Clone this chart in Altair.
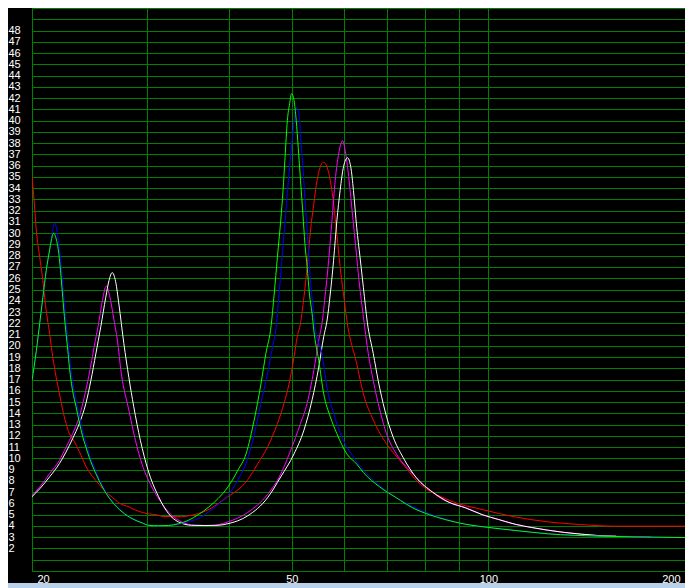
import altair as alt
import pandas as pd

# ---- data (frequency in Hz, value) ----
green_f = [20.0, 20.31, 20.55, 20.78, 21.03, 21.28, 21.4, 21.57, 21.78, 21.98,
           22.16, 22.29, 22.42, 22.55, 22.69, 22.82, 23.08, 23.36, 23.63, 23.9,
           24.19, 24.47, 25.05, 25.63, 26.54, 27.49, 28.46, 29.48, 30.17, 31.25,
           32.36, 33.51, 34.71, 35.94, 37.21, 38.54, 39.91, 41.32, 42.54, 43.81,
           44.83, 45.62, 46.48, 46.98, 47.52, 48.07, 48.47, 48.81, 49.21, 49.61,
           49.96, 50.38, 50.78, 51.14, 51.55, 51.99, 52.35, 52.77, 53.2, 53.7,
           54.02, 54.97, 55.94, 57.25, 58.6, 60.69, 62.85, 64.34, 68.18, 72.28,
           76.62, 81.2, 86.07, 92.3, 99.58, 109.93, 123.49, 147.07, 167.16, 200.0]
green_v = [16.9, 19.6, 22.0, 24.3, 26.7, 28.5, 29.3, 30.0, 29.5, 28.2,
           26.1, 24.3, 22.6, 21.1, 19.6, 18.1, 16.0, 14.6, 13.2, 12.0,
           11.0, 10.1, 8.65, 7.46, 6.13, 5.24, 4.65, 4.27, 4.06, 4.02,
           4.04, 4.2, 4.5, 5.0, 5.63, 6.43, 7.46, 8.94, 10.4, 13.5,
           16.6, 19.3, 21.8, 24.6, 27.9, 31.1, 33.8, 36.7, 40.0, 41.5,
           42.4, 41.8, 40.0, 37.6, 34.7, 31.7, 29.1, 27.0, 24.6, 22.85,
           21.4, 18.7, 15.75, 13.7, 12.2, 10.4, 9.5, 8.75, 7.46, 6.5,
           5.6, 5.0, 4.55, 4.15, 3.88, 3.6, 3.3, 3.1, 3.03, 2.97]

blue_f = [20.0, 20.31, 20.55, 20.78, 21.03, 21.28, 21.4, 21.52, 21.67, 21.83,
          21.98, 22.16, 22.29, 22.42, 22.55, 22.69, 22.82, 23.08, 23.36, 23.63,
          23.9, 24.19, 24.47, 25.05, 25.63, 26.54, 27.49, 28.46, 29.48, 30.17,
          31.25, 32.36, 33.51, 34.71, 35.94, 37.21, 38.54, 39.91, 41.32, 42.79,
          43.81, 44.83, 45.89, 46.7, 47.24, 47.8, 48.36, 48.92, 49.5, 50.04,
          50.48, 50.84, 51.26, 51.55, 51.99, 52.46, 52.96, 53.39, 54.02, 54.33,
          55.61, 56.59, 57.93, 59.64, 62.13, 65.84, 70.61, 76.62, 86.07, 92.3,
          99.58, 109.93, 123.49, 147.07, 167.16, 200.0]
blue_v = [16.9, 19.5, 21.9, 24.2, 26.6, 28.5, 29.4, 30.3, 30.9, 30.3,
          29.0, 27.2, 25.5, 23.8, 22.2, 20.6, 19.1, 16.8, 15.2, 13.8,
          12.5, 11.4, 10.4, 8.9, 7.6, 6.2, 5.3, 4.7, 4.3, 4.08,
          4.02, 4.04, 4.15, 4.4, 4.65, 5.2, 5.9, 6.7, 8.06, 10.0,
          12.2, 14.9, 17.5, 19.9, 21.4, 24.6, 28.2, 31.7, 35.3, 38.2,
          40.3, 41.2, 40.6, 38.8, 35.9, 32.3, 28.8, 25.8, 22.85, 21.4,
          19.3, 16.3, 14.0, 11.9, 10.1, 8.35, 6.9, 5.7, 4.6, 4.15,
          3.88, 3.6, 3.3, 3.1, 3.03, 2.97]

red_f = [20.0, 20.15, 20.31, 20.55, 20.78, 20.91, 21.03, 21.28, 21.52, 21.78,
         22.03, 22.29, 22.55, 22.82, 23.22, 23.63, 24.19, 24.75, 25.34, 25.63,
         26.86, 27.17, 28.14, 28.46, 30.0, 31.25, 31.61, 33.9, 34.3, 35.94,
         36.79, 39.45, 42.79, 44.31, 45.89, 47.52, 48.65, 49.5, 50.38, 50.96,
         51.55, 52.17, 52.77, 53.39, 54.02, 54.65, 55.28, 55.94, 56.59, 57.25,
         57.93, 58.6, 59.28, 59.99, 60.69, 62.85, 64.34, 66.63, 69.8, 73.99,
         77.51, 87.07, 97.86, 109.93, 123.49, 138.79, 155.9, 200.0]
red_v = [35.0, 32.9, 30.2, 27.9, 25.8, 24.3, 23.1, 21.1, 19.0, 17.2,
         15.75, 14.3, 13.1, 12.2, 11.5, 10.6, 9.3, 8.4, 7.7, 7.35,
         6.3, 6.05, 5.7, 5.55, 5.1, 4.95, 4.85, 4.82, 4.85, 5.1,
         5.3, 6.4, 8.1, 9.5, 11.0, 13.1, 14.9, 16.6, 19.0, 20.8,
         22.0, 24.3, 27.0, 30.2, 32.6, 34.7, 35.9, 36.3, 35.9, 34.7,
         32.6, 29.9, 27.0, 24.6, 22.3, 18.4, 15.75, 13.4, 11.3, 9.5,
         8.06, 6.28, 5.46, 4.8, 4.36, 4.12, 3.98, 3.98]

magenta_f = [20.0, 20.55, 21.28, 22.03, 22.55, 23.08, 23.63, 24.04, 24.47, 24.9,
             25.34, 25.63, 25.99, 26.39, 26.7, 27.01, 27.41, 28.14, 28.8, 29.48,
             30.52, 31.61, 32.73, 33.9, 35.52, 37.65, 39.91, 42.79, 45.89, 48.07,
             49.78, 51.55, 52.77, 54.02, 54.97, 55.61, 56.26, 56.93, 57.59, 58.26,
             58.95, 59.78, 60.48, 61.18, 61.91, 62.63, 63.36, 64.34, 65.47, 66.63,
             68.18, 69.8, 72.28, 75.72, 80.27, 86.07, 92.3, 97.86, 103.7, 109.93,
             116.53, 123.49, 130.92, 138.79, 147.07, 156.83, 177.56]
magenta_v = [6.7, 7.46, 8.65, 9.83, 11.0, 12.2, 13.7, 15.4, 17.5, 19.9,
             22.25, 24.0, 25.3, 24.0, 22.3, 20.6, 17.5, 14.3, 11.6, 9.5,
             7.46, 6.0, 4.95, 4.36, 4.06, 4.04, 4.36, 5.2, 6.8, 8.6,
             10.7, 13.1, 14.9, 17.8, 20.5, 22.0, 24.6, 27.6, 31.1, 34.7,
             37.0, 38.2, 37.0, 34.7, 31.7, 28.8, 25.8, 22.6, 19.3, 16.9,
             14.3, 12.2, 10.4, 8.94, 7.46, 6.2, 5.63, 5.01, 4.57, 4.15,
             3.86, 3.62, 3.42, 3.27, 3.15, 3.09, 3.03]

white_f = [20.0, 20.55, 21.28, 22.03, 23.08, 23.63, 24.19, 24.61, 25.05, 25.49,
           25.94, 26.24, 26.54, 26.86, 27.17, 27.65, 28.14, 28.63, 29.31, 30.1,
           31.25, 32.36, 33.51, 35.1, 36.79, 38.54, 39.91, 42.79, 45.89, 48.07,
           50.38, 52.17, 53.7, 54.97, 55.94, 56.59, 57.25, 57.93, 58.6, 59.28,
           59.99, 60.84, 61.54, 62.13, 62.85, 63.58, 64.34, 65.24, 66.63, 67.8,
           69.38, 71.45, 73.99, 77.51, 82.17, 87.07, 92.3, 97.86, 103.7, 109.93,
           116.53, 123.49, 130.92, 138.79, 147.07, 156.83]
white_v = [6.6, 7.3, 8.36, 9.54, 11.75, 13.1, 14.9, 16.9, 19.3, 21.7,
           24.3, 25.8, 26.5, 25.7, 23.7, 20.2, 17.2, 14.6, 11.6, 9.0,
           6.6, 5.1, 4.36, 4.06, 4.04, 4.06, 4.2, 4.9, 6.5, 8.35,
           10.4, 12.5, 15.2, 18.1, 20.8, 22.2, 24.6, 27.6, 31.1, 33.8,
           35.9, 36.7, 35.9, 33.8, 30.5, 27.9, 25.2, 22.1, 19.3, 16.9,
           14.3, 11.9, 10.1, 8.3, 7.0, 6.1, 5.6, 5.0, 4.57, 4.15,
           3.86, 3.62, 3.42, 3.27, 3.15, 3.09]

x_grid = [20, 30, 40, 50, 60, 70, 80, 90, 100, 200]
x_labels = [20, 50, 100, 200]
y_grid = list(range(1, 50))

# draw order: first listed is drawn first (bottom)
curves = [
    ("red", red_f, red_v, "#FF0000"),
    ("magenta", magenta_f, magenta_v, "#FF00FF"),
    ("white", white_f, white_v, "#FFFFFF"),
    ("blue", blue_f, blue_v, "#0000FF"),
    ("green", green_f, green_v, "#00FF00"),
]

# svg must stay within 693 - 2*8 = 677 px wide
PAD_L = 24
W, H = 653, 563
GRID = "#008000"
FONT = "Liberation Sans"

x_scale = alt.Scale(type="log", domain=[20, 200], nice=False)
y_scale = alt.Scale(domain=[0, 50], nice=False, zero=False)

x_axis = alt.Axis(
    values=x_grid,
    labelExpr="indexof(" + str(x_labels) + ", datum.value) >= 0 ? '' + datum.value : ''",
    grid=True, gridColor=GRID, gridWidth=1, gridOpacity=1,
    ticks=False, tickSize=0, domain=False,
    labelColor="white", labelFont=FONT, labelFontSize=11,
    labelPadding=2, labelFlush=True, labelFlushOffset=-5,
    labelOverlap=False, title=None,
)
y_axis = alt.Axis(
    values=y_grid,
    labelExpr="datum.value >= 2 && datum.value <= 48 ? '' + datum.value : ''",
    grid=True, gridColor=GRID, gridWidth=1, gridOpacity=1,
    ticks=False, tickSize=0, domain=False,
    labelColor="white", labelFont=FONT, labelFontSize=11,
    labelAlign="left", labelBaseline="middle", labelPadding=PAD_L,
    labelOverlap=False, title=None,
)

layers = []
for name, fs, vs, col in curves:
    if len(fs) != len(vs):
        raise ValueError(f"length mismatch for {name}: {len(fs)} vs {len(vs)}")
    df = pd.DataFrame({"f": fs, "v": vs})
    layers.append(
        alt.Chart(df)
        .mark_line(stroke=col, strokeWidth=1, interpolate="monotone", clip=True)
        .encode(
            x=alt.X("f:Q", scale=x_scale, axis=x_axis),
            y=alt.Y("v:Q", scale=y_scale, axis=y_axis),
        )
    )

# light window-frame strip under the black panel
strip = (
    alt.Chart(pd.DataFrame({"k": [0]}))
    .mark_rect(color="#B9D1EA")
    .encode(
        x=alt.value(-PAD_L), x2=alt.value(W),
        y=alt.value(H + 12), y2=alt.value(H + 17),
    )
)

chart = (
    alt.layer(*layers, strip)
    .properties(
        width=W, height=H,
        autosize=alt.AutoSizeParams(type="none"),
        padding={"left": PAD_L, "top": 0, "right": 0, "bottom": 17},
    )
    .configure(background="black")
    .configure_view(stroke=GRID, strokeWidth=1)
)

chart.save("out.html", embed_options={"renderer": "svg", "actions": False})
